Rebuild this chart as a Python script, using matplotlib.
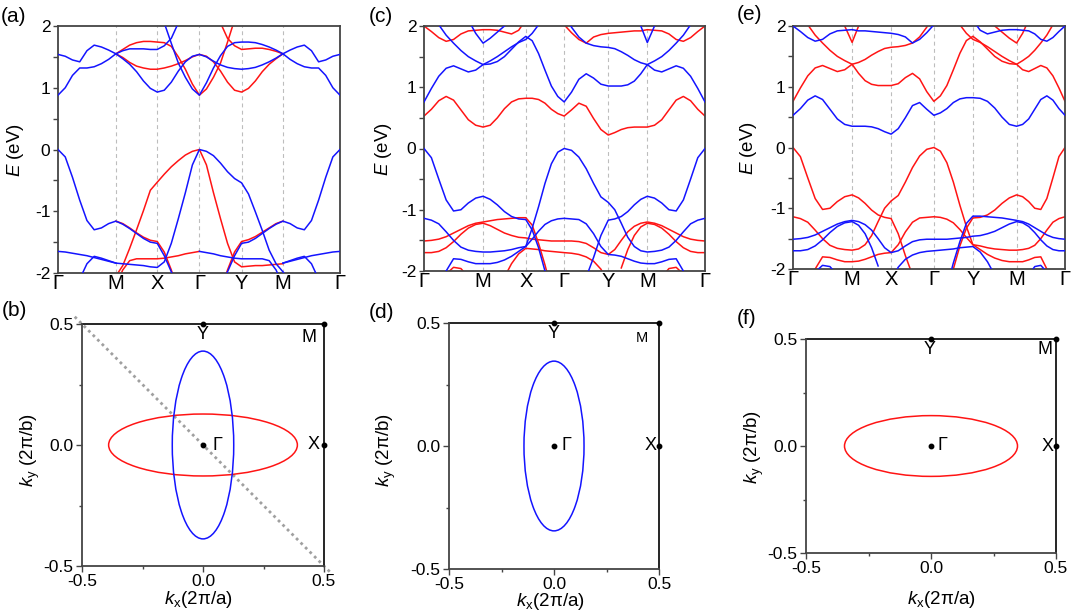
import numpy as np
import matplotlib
matplotlib.use('Agg')
import matplotlib.pyplot as plt
from matplotlib.patches import Ellipse
from matplotlib.ticker import MultipleLocator

plt.rcParams['font.family'] = ['Liberation Sans', 'DejaVu Sans']
plt.rcParams['mathtext.fontset'] = 'custom'
plt.rcParams['mathtext.rm'] = 'Liberation Sans'
plt.rcParams['mathtext.it'] = 'Liberation Sans:italic'

RED = '#ff1414'
BLUE = '#1414ff'
n = np.nan

# high-symmetry points along the path and their positions (path length) per panel
klabels = ['Γ', 'M', 'X', 'Γ', 'Y', 'M', 'Γ']
kpath_a = [0.0, 0.70, 1.20, 1.71, 2.22, 2.72, 3.41]
kpath_c = [0.0, 0.717, 1.235, 1.701, 2.236, 2.710, 3.41]
kpath_e = [0.0, 0.741, 1.230, 1.766, 2.255, 2.803, 3.41]
nsteps = [8, 6, 6, 6, 6, 8]   # samples per segment

# ---------------- panel (a) bands ----------------
a_red = [
    [n, n, n, n, n, n, n, n, 1.55,
     1.62, 1.69, 1.73, 1.75, 1.75, 1.74,
     1.73, 1.67, 1.50, 1.30, 1.06, 0.88,
     0.98, 1.17, 1.40, 1.74, 2.10, n,
     n, n, n, n, n, n,
     n, n, n, n, n, n, n, n],
    [n, n, n, n, n, n, n, n, 1.55,
     1.49, 1.41, 1.35, 1.32, 1.30, 1.30,
     1.32, 1.35, 1.39, 1.44, 1.50, 1.54,
     1.51, 1.42, 1.27, 1.09, 0.96, 0.93,
     0.99, 1.11, 1.26, 1.38, 1.47, 1.55,
     n, n, n, n, n, n, n, n],
    [n, n, n, n, n, n, n, n, n,
     n, n, n, n, n, n,
     n, n, n, n, n, n,
     n, n, 2.05, 1.80, 1.68, 1.62,
     1.63, 1.64, 1.64, 1.62, 1.59, 1.55,
     n, n, n, n, n, n, n, n],
    [n, n, n, n, n, n, n, n, -1.16,
     -1.20, -1.27, -1.35, -1.42, -1.47, -1.49,
     -1.66, -1.95, -2.30, n, n, n,
     n, n, -2.30, -1.95, -1.66, -1.49,
     -1.46, -1.41, -1.34, -1.27, -1.20, -1.16,
     n, n, n, n, n, n, n, n],
    [n, n, n, n, n, n, n, -2.30, -2.05,
     -1.88, -1.60, -1.30, -0.99, -0.66, -0.53,
     -0.40, -0.28, -0.18, -0.09, -0.03, 0.0,
     -0.25, -0.70, -1.12, -1.52, -1.82, -1.90,
     -1.89, -1.88, -1.88, -1.87, -1.86, -1.85,
     n, n, n, n, n, n, n, n],
    [n, n, n, n, n, n, n, n, -2.20,
     -1.95, -1.80, -1.77, -1.77, -1.77, -1.77,
     -1.76, -1.74, -1.72, -1.69, -1.67, -1.65,
     n, n, n, n, n, n,
     n, n, n, n, n, n,
     n, n, n, n, n, n, n, n],
]
a_blue = [
    [1.54, 1.51, 1.45, 1.42, 1.60, 1.69, 1.66, 1.61, 1.55,
     1.60, 1.63, 1.63, 1.63, 1.62, 1.62,
     1.68, 1.80, 2.05, n, n, n,
     n, n, n, n, n, n,
     n, n, n, n, n, n,
     n, n, n, n, n, n, n, n],
    [0.88, 1.00, 1.20, 1.32, 1.32, 1.34, 1.39, 1.46, 1.55,
     1.47, 1.38, 1.26, 1.11, 0.99, 0.93,
     0.96, 1.09, 1.27, 1.42, 1.51, 1.54,
     1.50, 1.43, 1.37, 1.33, 1.31, 1.30,
     1.31, 1.33, 1.37, 1.42, 1.48, 1.55,
     1.46, 1.39, 1.34, 1.32, 1.32, 1.20, 1.00, 0.88],
    [n, n, n, n, n, n, n, n, n,
     n, n, n, n, n, n,
     2.05, 1.72, 1.40, 1.17, 0.98, 0.88,
     1.08, 1.32, 1.52, 1.67, 1.73, 1.74,
     1.74, 1.73, 1.70, 1.66, 1.61, 1.55,
     1.61, 1.66, 1.69, 1.60, 1.42, 1.45, 1.51, 1.54],
    [0.0, -0.12, -0.45, -0.82, -1.15, -1.30, -1.27, -1.20, -1.16,
     -1.21, -1.28, -1.36, -1.44, -1.50, -1.52,
     -1.72, -1.98, -2.30, n, n, n,
     n, n, n, n, n, n,
     n, n, n, n, n, n,
     n, n, n, n, n, n, n, n],
    [-1.65, -1.66, -1.68, -1.70, -1.72, -1.75, -1.78, -1.81, -1.84,
     -1.85, -1.86, -1.87, -1.88, -1.90, -1.91,
     -1.82, -1.52, -1.12, -0.70, -0.25, 0.0,
     -0.03, -0.10, -0.22, -0.36, -0.47, -0.54,
     -0.72, -1.01, -1.31, -1.63, -1.85, -1.98,
     -2.15, n, n, n, n, n, n, n],
    [n, n, n, n, n, n, n, n, n,
     n, n, n, n, n, n,
     n, n, n, n, n, n,
     n, n, -2.30, -1.98, -1.72, -1.52,
     -1.50, -1.44, -1.36, -1.28, -1.21, -1.16,
     -1.20, -1.27, -1.30, -1.15, -0.82, -0.45, -0.12, 0.0],
    [n, n, n, n, n, n, n, n, n,
     n, n, n, n, n, n,
     n, n, n, n, n, -1.65,
     -1.67, -1.69, -1.72, -1.74, -1.76, -1.77,
     -1.77, -1.77, -1.77, -1.80, -1.95, -2.20,
     n, n, n, n, n, n, n, n],
    [n, n, n, -2.10, -1.85, -1.73, -1.76, -1.80, -1.84,
     n, n, n, n, n, n,
     n, n, n, n, n, n,
     n, n, n, n, n, n,
     n, n, n, n, n, -1.84,
     -1.80, -1.76, -1.73, -1.85, -2.10, n, n, n],
    [n, n, n, n, n, n, n, n, n,
     n, n, n, n, n, n,
     n, n, n, n, n, n,
     n, n, n, n, n, n,
     n, n, n, n, n, -1.84,
     -1.81, -1.78, -1.75, -1.72, -1.70, -1.68, -1.66, -1.65],
]

# ---------------- panel (c) bands ----------------
c_red = [
    [0.53, 0.64, 0.78, 0.85, 0.79, 0.63, 0.47, 0.38, 0.35,
     0.38, 0.50, 0.65, 0.76, 0.81, 0.82,
     0.82, 0.80, 0.74, 0.64, 0.57, 0.53,
     0.63, 0.74, 0.69, 0.49, 0.31, 0.22,
     0.26, 0.31, 0.34, 0.35, 0.35, 0.35,
     0.38, 0.47, 0.63, 0.79, 0.85, 0.78, 0.64, 0.53],
    [2.00, 1.91, 1.81, 1.75, 1.78, 1.87, 1.92, 1.93, 1.94,
     1.94, 1.93, 1.90, 1.87, 1.93, 2.10,
     n, n, n, n, n, 2.02,
     1.89, 1.78, 1.72, 1.82, 1.86, 1.88,
     1.89, 1.90, 1.91, 1.92, 1.92, 1.94,
     1.93, 1.92, 1.87, 1.78, 1.75, 1.81, 1.91, 2.00],
    [-1.51, -1.50, -1.48, -1.44, -1.38, -1.32, -1.26, -1.22, -1.20,
     -1.18, -1.16, -1.15, -1.14, -1.13, -1.13,
     -1.25, -1.55, -1.90, -2.30, n, n,
     n, n, n, n, n, n,
     n, n, n, n, n, n,
     n, n, n, n, n, n, n, n],
    [-1.70, -1.70, -1.68, -1.62, -1.52, -1.40, -1.30, -1.24, -1.22,
     -1.26, -1.32, -1.38, -1.42, -1.45, -1.46,
     -1.48, -1.49, -1.50, -1.51, -1.51, -1.51,
     -1.51, -1.52, -1.55, -1.62, -1.70, -1.73,
     -1.65, -1.50, -1.36, -1.27, -1.22, -1.20,
     -1.22, -1.26, -1.32, -1.38, -1.44, -1.48, -1.50, -1.51],
    [n, n, n, n, n, n, n, n, n,
     n, n, -2.10, -1.88, -1.72, -1.63,
     -1.64, -1.65, -1.67, -1.68, -1.69, -1.70,
     -1.71, -1.73, -1.77, -1.84, -1.97, -2.20,
     n, n, n, n, n, n,
     n, n, n, n, n, n, n, n],
    [n, n, n, n, n, n, n, n, n,
     n, n, n, n, n, n,
     n, n, n, n, n, n,
     n, n, n, n, n, n,
     n, -1.95, -1.65, -1.42, -1.28, -1.22,
     -1.24, -1.30, -1.40, -1.52, -1.62, -1.68, -1.70, -1.70],
    [n, n, n, -2.05, -1.94, -1.96, -2.10, n, n,
     n, n, n, n, n, n,
     n, n, n, n, n, n,
     n, n, n, n, n, n,
     n, n, n, n, n, n,
     n, -2.10, -1.96, -1.94, -2.05, n, n, n],
]
c_blue = [
    [n, n, 2.02, 1.85, 1.72, 1.60, 1.50, 1.43, 1.37,
     1.38, 1.42, 1.50, 1.62, 1.74, 1.83,
     1.76, 1.55, 1.28, 1.02, 0.85, 0.76,
     0.92, 1.13, 1.22, 1.15, 1.05, 1.02,
     1.02, 1.02, 1.04, 1.10, 1.22, 1.37,
     1.28, 1.25, 1.30, 1.35, 1.31, 1.18, 0.98, 0.76],
    [0.76, 0.98, 1.18, 1.31, 1.35, 1.30, 1.25, 1.28, 1.37,
     1.43, 1.50, 1.58, 1.66, 1.73, 1.78,
     1.88, 2.02, 2.20, n, n, n,
     n, n, n, n, n, n,
     n, n, n, n, n, n,
     n, n, n, n, n, n, n, n],
    [n, n, n, n, n, n, n, n, n,
     n, n, n, n, n, n,
     n, n, n, n, n, 2.20,
     1.98, 1.82, 1.72, 1.68, 1.66, 1.65,
     1.63, 1.58, 1.52, 1.45, 1.40, 1.37,
     1.43, 1.50, 1.60, 1.72, 1.85, 2.02, n, n],
    [n, n, n, n, n, n, 2.10, 1.88, 1.72,
     1.80, 1.90, 2.00, 2.10, n, n,
     n, n, n, n, n, n,
     n, n, n, n, n, n,
     n, n, n, n, 2.00, 1.73,
     2.00, n, n, n, n, n, n, n],
    [0.0, -0.15, -0.50, -0.84, -1.02, -1.00, -0.89, -0.81, -0.78,
     -0.83, -0.92, -1.03, -1.11, -1.15, -1.16,
     -1.33, -1.62, -2.00, -2.30, n, n,
     n, n, n, n, n, n,
     n, n, n, n, n, n,
     n, n, n, n, n, n, n, n],
    [n, n, n, n, n, n, n, n, n,
     n, n, n, n, n, n,
     n, n, n, n, n, n,
     n, n, -2.10, -1.78, -1.42, -1.17,
     -1.15, -1.11, -1.03, -0.92, -0.83, -0.78,
     -0.81, -0.89, -1.00, -1.02, -0.84, -0.50, -0.15, 0.0],
    [-1.14, -1.17, -1.23, -1.36, -1.50, -1.61, -1.66, -1.68, -1.69,
     -1.69, -1.68, -1.67, -1.65, -1.62, -1.60,
     -1.30, -0.95, -0.57, -0.25, -0.06, 0.0,
     -0.03, -0.14, -0.33, -0.57, -0.79, -0.88,
     -1.00, -1.22, -1.45, -1.60, -1.67, -1.69,
     -1.68, -1.66, -1.61, -1.50, -1.36, -1.23, -1.17, -1.14],
    [n, n, n, -2.00, -1.80, -1.81, -1.85, -1.88, -1.88,
     -1.88, -1.86, -1.82, -1.76, -1.68, -1.60,
     -1.48, -1.35, -1.24, -1.18, -1.15, -1.14,
     -1.15, -1.16, -1.23, -1.39, -1.60, -1.73,
     -1.74, -1.76, -1.80, -1.84, -1.87, -1.88,
     -1.88, -1.85, -1.81, -1.80, -2.00, n, n, n],
]

# panel (e) is panel (c) traversed backwards with the two spins swapped
e_red = [b[::-1] for b in c_blue]
e_blue = [r[::-1] for r in c_red]

# ---------------- Fermi contours (ellipse semi-axes) ----------------
bz_points = {'Y': (0.0, 0.5), 'M': (0.5, 0.5), 'X': (0.5, 0.0), 'Γ': (0.0, 0.0)}
fs_b = [(RED, 0.39, 0.128), (BLUE, 0.127, 0.388)]
fs_d = [(BLUE, 0.143, 0.345)]
fs_f = [(RED, 0.346, 0.142)]

W, H = 1080, 614
fig = plt.figure(figsize=(W / 100, H / 100), dpi=100)


def add_axes_px(left, top, right, bottom):
    return fig.add_axes([left / W, 1 - bottom / H, (right - left) / W, (bottom - top) / H])


def kgrid(kpath):
    pts = [kpath[0]]
    for i, ns in enumerate(nsteps):
        pts += list(np.linspace(kpath[i], kpath[i + 1], ns + 1)[1:])
    return np.array(pts)


def band_panel(ax, kpath, reds, blues, ylabel_x):
    k = kgrid(kpath)
    for kk in kpath[1:-1]:
        ax.axvline(kk, color='#bdbdbd', lw=0.8, dashes=(3.5, 3), zorder=1)
    for band in reds:
        ax.plot(k, band, color=RED, lw=1.1, zorder=2)
    for band in blues:
        ax.plot(k, band, color=BLUE, lw=1.1, zorder=3)
    ax.set_xlim(kpath[0], kpath[-1])
    ax.set_ylim(-2, 2)
    ax.set_xticks(kpath)
    ax.set_xticklabels(klabels, fontsize=14.5)
    ax.tick_params(axis='x', length=0, pad=1)
    ax.set_yticks([-2, -1, 0, 1, 2])
    ax.set_yticklabels(['-2', '-1', '0', '1', '2'])
    ax.yaxis.set_minor_locator(MultipleLocator(0.5))
    ax.tick_params(axis='y', which='both', direction='out', length=3.5,
                   width=1.0, labelsize=12.5, color='#444444', pad=2)
    for sp in ax.spines.values():
        sp.set_color('#444444')
        sp.set_linewidth(1.3)
    ax.set_ylabel('$E$ (eV)', fontsize=13.5)
    ax.yaxis.set_label_coords(ylabel_x, 0.5)


def bz_panel(ax, contours, labels, diagonal=False):
    ax.set_xlim(-0.5, 0.5)
    ax.set_ylim(-0.5, 0.5)
    for color, sx, sy in contours:
        ax.add_patch(Ellipse((0, 0), 2 * sx, 2 * sy, fill=False,
                             edgecolor=color, lw=1.1, zorder=3))
    ax.plot([-0.5, 0.5], [0.5, 0.5], color='k', lw=1.2, clip_on=False, zorder=2)
    ax.plot([0.5, 0.5], [-0.5, 0.5], color='k', lw=1.2, clip_on=False, zorder=2)
    if diagonal:
        ax.plot([-0.53, 0.53], [0.53, -0.53], color='#a0a0a0', lw=2.0,
                dashes=(1, 1.3), clip_on=False, zorder=1)
    for name, (px, py) in bz_points.items():
        ax.plot(px, py, 'o', color='k', ms=3.2, clip_on=False, zorder=4)
    for name, (tx, ty, fs) in labels.items():
        ax.text(tx, ty, name, ha='center', va='center', fontsize=fs, zorder=5)
    for side in ['top', 'right']:
        ax.spines[side].set_visible(False)
    for side in ['left', 'bottom']:
        ax.spines[side].set_color('#444444')
        ax.spines[side].set_linewidth(1.3)
    ax.set_xticks([-0.5, 0.0, 0.5])
    ax.set_yticks([-0.5, 0.0, 0.5])
    ax.set_xticklabels(['-0.5', '0.0', '0.5'])
    ax.set_yticklabels(['-0.5', '0.0', '0.5'])
    ax.xaxis.set_minor_locator(MultipleLocator(0.25))
    ax.yaxis.set_minor_locator(MultipleLocator(0.25))
    ax.tick_params(which='major', direction='out', length=4.5, width=1.0,
                   labelsize=12.5, color='#444444', pad=1.5)
    ax.tick_params(which='minor', direction='out', length=2.5, width=1.0,
                   color='#444444')


ax_a = add_axes_px(58, 26, 340, 273)
band_panel(ax_a, kpath_a, a_red, a_blue, -0.115)
ax_c = add_axes_px(424, 26, 705, 271)
band_panel(ax_c, kpath_c, c_red, c_blue, -0.108)
ax_e = add_axes_px(793, 26, 1065, 269)
band_panel(ax_e, kpath_e, e_red, e_blue, -0.126)

ax_b = add_axes_px(82, 324, 324, 566)
bz_panel(ax_b, fs_b, {'Y': (0.0, 0.455, 13), 'M': (0.44, 0.444, 13),
                      'X': (0.459, 0.004, 13), 'Γ': (0.06, 0.0, 13)}, diagonal=True)
ax_d = add_axes_px(449, 323, 659, 569)
bz_panel(ax_d, fs_d, {'Y': (0.0, 0.457, 13), 'M': (0.418, 0.44, 10.5),
                      'X': (0.462, 0.0, 13), 'Γ': (0.057, 0.0, 13)})
ax_f = add_axes_px(806, 339, 1056, 553)
bz_panel(ax_f, fs_f, {'Y': (-0.004, 0.449, 13), 'M': (0.456, 0.449, 13),
                      'X': (0.466, -0.002, 13), 'Γ': (0.046, 0.0, 13)})

# axis titles for the contour panels
for x, y in [(198, 600), (550, 602), (941, 599)]:
    fig.text(x / W, 1 - y / H, r'$k_\mathrm{x}$(2π/a)', ha='center', va='center', fontsize=13.5)
for x, y in [(30, 450), (386, 450), (754, 447)]:
    fig.text(x / W, 1 - y / H, r'$k_\mathrm{y}$ (2π/b)', ha='center', va='center',
             rotation=90, fontsize=13.5)

# panel letters
for lab, x, y in [('(a)', 13, 16), ('(c)', 381, 16), ('(e)', 749, 14),
                  ('(b)', 14, 311), ('(d)', 381, 312), ('(f)', 747, 319)]:
    fig.text(x / W, 1 - y / H, lab, ha='center', va='center', fontsize=15)

fig.savefig('out.png', dpi=100)
